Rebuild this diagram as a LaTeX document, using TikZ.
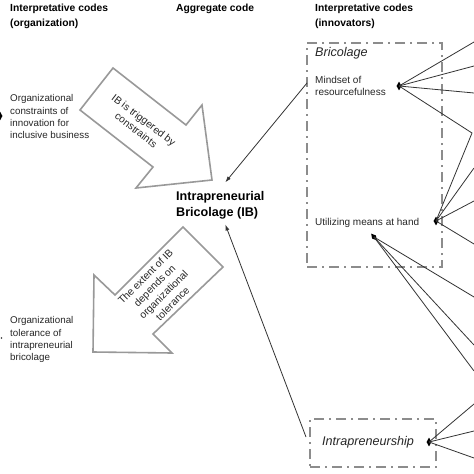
\documentclass[tikz,border=0pt]{standalone}
\usepackage{fontspec}
\setmainfont{Liberation Sans}
\usetikzlibrary{arrows.meta,shapes.geometric,calc}
\begin{document}
\begin{tikzpicture}[x=1pt,y=-1pt,
  hdr/.style={font=\fontsize{10.3}{14.5}\selectfont\bfseries, align=left, anchor=north west, inner sep=0pt, text=black},
  lbl/.style={font=\fontsize{9.8}{12.4}\selectfont, align=left, anchor=north west, inner sep=0pt, text=black!85},
  inno/.style={font=\fontsize{10}{12}\selectfont, align=left, anchor=north west, inner sep=0pt, text=black!85},
  cat/.style={font=\fontsize{12.6}{15}\selectfont\itshape, anchor=west, inner sep=0pt, text=black!85},
  agg/.style={font=\fontsize{12.6}{16}\selectfont\bfseries, align=left, anchor=north west, inner sep=0pt, text=black},
  dashbox/.style={draw=black!45, line width=2pt, dash pattern=on 10pt off 5pt on 2pt off 5pt},
  blockarrow/.style={draw=black!40, line width=1.6pt, fill=white, line join=miter},
  arrtext/.style={font=\fontsize{10.3}{12.8}\selectfont, align=center, text=black!85, inner sep=0pt},
  conn/.style={draw=black!80, line width=0.8pt},
  ptr/.style={conn, -{Latex[length=6pt,width=4pt]}},
  dmd/.style={diamond, fill=black, draw=none, minimum width=5pt, minimum height=9pt, inner sep=0pt}
]
\useasboundingbox (0,0) rectangle (474,474);

% headers
\node[hdr] (h1) at (10,4) {Interpretative codes\\(organization)};
\node[hdr] (h2) at (176,4) {Aggregate code};
\node[hdr] (h3) at (315,4) {Interpretative codes\\(innovators)};

% left labels
\node[lbl] (org1) at (10,94.3) {Organizational\\constraints of\\innovation for\\inclusive business};
\node[lbl] (org2) at (10,316.3) {Organizational\\tolerance of\\intrapreneurial\\bricolage};

% block arrows
\draw[blockarrow] (80,110) -- (113,68) -- (186,125) -- (202,105) -- (212,180) -- (136,188) -- (153,167) -- cycle;
\node[arrtext, rotate=-37.5] (t1) at (140,125) {IB is triggered by\\constraints};
\draw[blockarrow] (183,227) -- (223,267) -- (153,334) -- (172,353) -- (93,352) -- (94,275) -- (115,295) -- cycle;
\node[arrtext, rotate=45] (t2) at (159,290) {The extent of IB\\depends on\\organizational\\tolerance};

% aggregate
\node[agg] (ib) at (176,191.3) {Intrapreneurial\\Bricolage (IB)};

% boxes
\node[dashbox, minimum width=135pt, minimum height=224pt] (bbox) at (374.5,155) {};
\node[dashbox, minimum width=126pt, minimum height=48pt] (ibox) at (373,443) {};

\node[cat] (brico) at (315,53) {Bricolage};
\node[inno] (mind) at (315,76.2) {Mindset of\\resourcefulness};
\node[inno, anchor=west] (util) at (315,222.5) {Utilizing means at hand};
\node[cat] (intra) at (322,442.5) {Intrapreneurship};

% diamonds
\node[dmd] (dm) at (399,86) {};
\node[dmd] (du) at (436,221) {};
\node[dmd, rotate=40] (dl) at (374,237) {};
\node[dmd] (di) at (429,442) {};
\node[dmd] (e1) at (0,116) {};
\node[circle, fill=black!80, inner sep=0pt, minimum size=1.8pt] (e2) at (1.5,338) {};

% right edge ends
\coordinate (r1) at (474,42);
\coordinate (r2) at (474,66);
\coordinate (r3) at (474,93);
\coordinate (rb) at (472,133);
\coordinate (r4) at (474,168);
\coordinate (r5) at (474,201);
\coordinate (r6) at (474,244);
\coordinate (r7) at (474,297);
\coordinate (r8) at (474,345);
\coordinate (r9) at (474,371);
\coordinate (r10) at (474,404);
\coordinate (r11) at (474,431);
\coordinate (r12) at (474,458);

\draw[conn] (dm.center) -- (r1);
\draw[conn] (dm.center) -- (r2);
\draw[conn] (dm.center) -- (r3);
\draw[conn, line join=miter] (dm.center) -- (rb) -- (du.center);
\draw[conn] (du.center) -- (r4);
\draw[conn] (du.center) -- (r5);
\draw[conn] (du.center) -- (r6);
\draw[conn] (dl.center) -- (r7);
\draw[conn] (dl.center) -- (r8);
\draw[conn] (dl.center) -- (r9);
\draw[conn] (di.center) -- (r10);
\draw[conn] (di.center) -- (r11);
\draw[conn] (di.center) -- (r12);

% arrows to IB
\coordinate (mL) at (307,83);
\coordinate (iL) at (306,437);
\draw[ptr] (mL) -- ([shift={(5,-9)}]ib.north);
\draw[ptr] (iL) -- ([shift={(5,5)}]ib.south);
\end{tikzpicture}
\end{document}
